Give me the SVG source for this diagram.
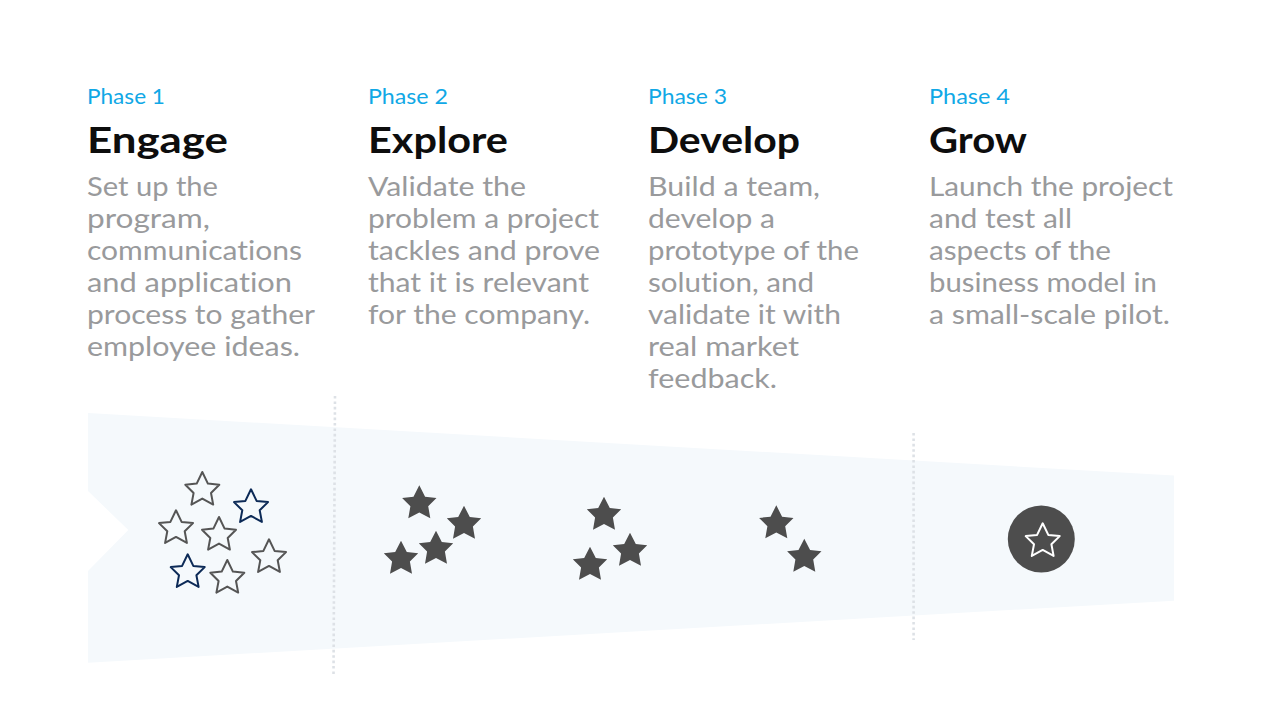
<svg xmlns="http://www.w3.org/2000/svg" width="1280" height="720" viewBox="0 0 1280 720">
<style>
text{font-family:"Lato","Liberation Sans",sans-serif;font-variant-ligatures:none}
.ph{font-size:21px;fill:#10a8e6}
.ti{font-size:37px;font-weight:700;fill:#0d0d0d}
.bd{font-size:27.5px;fill:#999a9c}
.dot{fill:none;stroke:#dde1e6;stroke-width:2.6;stroke-dasharray:2.6 2.8}
.o1{fill:none;stroke:#555;stroke-width:2;stroke-linejoin:round}
.o2{fill:none;stroke:#0c2a57;stroke-width:2;stroke-linejoin:round}
.o3{fill:none;stroke:#fff;stroke-width:2;stroke-linejoin:round}
.f{fill:#4d4d4d}
</style>
<defs>
<polygon id="star" points="0,0 5.600,11.600 17,12.800 8.700,21 10.900,32.600 0,26.600 -10.900,32.600 -8.700,21 -17,12.800 -5.600,11.600"/>
<polygon id="solid" points="0,0 5.800,11.400 17.200,12.600 8.900,20.900 11,33 0,27.200 -11,33 -8.900,20.900 -17.200,12.600 -5.800,11.400"/>
</defs>
<rect width="1280" height="720" fill="#fff"/>
<g id="funnel">
<polygon points="88,413 1174,475.500 1174,600.700 88,662.700 88,571 128.300,530 88,491" fill="#f5f9fc"/>
</g>
<g id="connectors">
<path class="dot" d="M335,396L333.500,676"/>
<path class="dot" d="M913.600,433V640"/>
</g>
<g id="phase1">
<text class="ph" x="87" y="104" textLength="78" lengthAdjust="spacingAndGlyphs">Phase 1</text>
<text class="ti" x="87" y="153" textLength="141" lengthAdjust="spacingAndGlyphs">Engage</text>
<text class="bd" x="87" y="196" textLength="131" lengthAdjust="spacingAndGlyphs">Set up the</text>
<text class="bd" x="87" y="228" textLength="123" lengthAdjust="spacingAndGlyphs">program,</text>
<text class="bd" x="87" y="260" textLength="215" lengthAdjust="spacingAndGlyphs">communications</text>
<text class="bd" x="87" y="292" textLength="205" lengthAdjust="spacingAndGlyphs">and application</text>
<text class="bd" x="87" y="324" textLength="228" lengthAdjust="spacingAndGlyphs">process to gather</text>
<text class="bd" x="87" y="356" textLength="213" lengthAdjust="spacingAndGlyphs">employee ideas.</text>
</g>
<g id="phase2">
<text class="ph" x="368" y="104" textLength="80" lengthAdjust="spacingAndGlyphs">Phase 2</text>
<text class="ti" x="368" y="153" textLength="140" lengthAdjust="spacingAndGlyphs">Explore</text>
<text class="bd" x="368" y="196" textLength="158" lengthAdjust="spacingAndGlyphs">Validate the</text>
<text class="bd" x="368" y="228" textLength="231" lengthAdjust="spacingAndGlyphs">problem a project</text>
<text class="bd" x="368" y="260" textLength="232" lengthAdjust="spacingAndGlyphs">tackles and prove</text>
<text class="bd" x="368" y="292" textLength="221" lengthAdjust="spacingAndGlyphs">that it is relevant</text>
<text class="bd" x="368" y="324" textLength="222" lengthAdjust="spacingAndGlyphs">for the company.</text>
</g>
<g id="phase3">
<text class="ph" x="648" y="104" textLength="79" lengthAdjust="spacingAndGlyphs">Phase 3</text>
<text class="ti" x="648" y="153" textLength="152" lengthAdjust="spacingAndGlyphs">Develop</text>
<text class="bd" x="648" y="196" textLength="172" lengthAdjust="spacingAndGlyphs">Build a team,</text>
<text class="bd" x="648" y="228" textLength="127" lengthAdjust="spacingAndGlyphs">develop a</text>
<text class="bd" x="648" y="260" textLength="211" lengthAdjust="spacingAndGlyphs">prototype of the</text>
<text class="bd" x="648" y="292" textLength="166" lengthAdjust="spacingAndGlyphs">solution, and</text>
<text class="bd" x="648" y="324" textLength="193" lengthAdjust="spacingAndGlyphs">validate it with</text>
<text class="bd" x="648" y="356" textLength="151" lengthAdjust="spacingAndGlyphs">real market</text>
<text class="bd" x="648" y="388" textLength="129" lengthAdjust="spacingAndGlyphs">feedback.</text>
</g>
<g id="phase4">
<text class="ph" x="929" y="104" textLength="81" lengthAdjust="spacingAndGlyphs">Phase 4</text>
<text class="ti" x="929" y="153" textLength="98" lengthAdjust="spacingAndGlyphs">Grow</text>
<text class="bd" x="929" y="196" textLength="244" lengthAdjust="spacingAndGlyphs">Launch the project</text>
<text class="bd" x="929" y="228" textLength="143" lengthAdjust="spacingAndGlyphs">and test all</text>
<text class="bd" x="929" y="260" textLength="182" lengthAdjust="spacingAndGlyphs">aspects of the</text>
<text class="bd" x="929" y="292" textLength="228" lengthAdjust="spacingAndGlyphs">business model in</text>
<text class="bd" x="929" y="324" textLength="241" lengthAdjust="spacingAndGlyphs">a small-scale pilot.</text>
</g>
<g id="stars-engage">
<use href="#star" class="o1" x="202.300" y="472"/>
<use href="#star" class="o2" x="251" y="489.300"/>
<use href="#star" class="o1" x="176" y="510.300"/>
<use href="#star" class="o1" x="219" y="517"/>
<use href="#star" class="o1" x="269" y="539.300"/>
<use href="#star" class="o2" x="187.700" y="554.300"/>
<use href="#star" class="o1" x="227.300" y="560"/>
</g>
<g id="stars-explore">
<use href="#solid" class="f" x="419.300" y="485.300"/>
<use href="#solid" class="f" x="464" y="505.700"/>
<use href="#solid" class="f" x="436" y="530.700"/>
<use href="#solid" class="f" x="401" y="540.700"/>
</g>
<g id="stars-develop">
<use href="#solid" class="f" x="604" y="496.700"/>
<use href="#solid" class="f" x="630" y="532.700"/>
<use href="#solid" class="f" x="590" y="546.700"/>
</g>
<g id="stars-validate">
<use href="#solid" class="f" x="776.300" y="505.300"/>
<use href="#solid" class="f" x="804.300" y="538.700"/>
</g>
<g id="grow-badge">
<circle cx="1041.300" cy="539" r="33.500" fill="#4d4d4d"/>
<use href="#star" class="o3" x="1042.700" y="523.300"/>
</g>
</svg>
